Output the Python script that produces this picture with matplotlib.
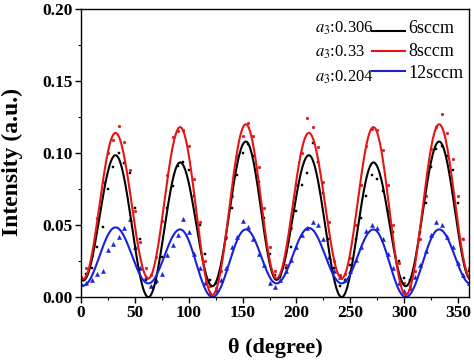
import numpy as np
import matplotlib
matplotlib.use("Agg")
import matplotlib.pyplot as plt

# ---------------- data ----------------
theta = list(range(0, 361, 5))

black_pts = [0.013, 0.016, 0.020, 0.035, 0.049, 0.075, 0.090, 0.100, 0.093, 0.086,
             0.062, 0.040, 0.012, 0.007, 0.010, 0.028, 0.062, 0.077, 0.091, 0.094,
             0.088, 0.070, 0.050, 0.030, 0.012, 0.010, 0.018, 0.040, 0.062, 0.085,
             0.100, 0.106, 0.098, 0.080, 0.055, 0.030, 0.015, 0.014, 0.020, 0.035,
             0.060, 0.078, 0.086, 0.107, 0.094, 0.072, 0.040, 0.020, 0.008, 0.012,
             0.022, 0.040, 0.055, 0.070, 0.085, 0.082, 0.074, 0.060, 0.045, 0.025,
             0.013, 0.012, 0.022, 0.045, 0.065, 0.090, 0.103, 0.105, 0.098, 0.088,
             0.065, 0.040, 0.018]

red_pts = [0.014, 0.020, 0.029, 0.055, 0.080, 0.100, 0.109, 0.119, 0.108, 0.088,
           0.060, 0.038, 0.020, 0.015, 0.028, 0.053, 0.085, 0.111, 0.115, 0.116,
           0.105, 0.082, 0.052, 0.025, 0.008, 0.006, 0.018, 0.042, 0.070, 0.098,
           0.112, 0.121, 0.112, 0.090, 0.062, 0.035, 0.018, 0.015, 0.022, 0.048,
           0.078, 0.100, 0.124, 0.118, 0.104, 0.080, 0.052, 0.025, 0.015, 0.016,
           0.027, 0.050, 0.078, 0.105, 0.117, 0.116, 0.102, 0.078, 0.050, 0.024,
           0.010, 0.008, 0.018, 0.040, 0.070, 0.103, 0.118, 0.127, 0.114, 0.096,
           0.070, 0.040, 0.020]

blue_pts = [0.009, 0.010, 0.012, 0.016, 0.018, 0.033, 0.037, 0.042, 0.048, 0.054,
            0.035, 0.020, 0.014, 0.008, 0.012, 0.016, 0.029, 0.036, 0.043, 0.054,
            0.045, 0.030, 0.020, 0.010, 0.003, 0.005, 0.012, 0.020, 0.035, 0.042,
            0.053, 0.049, 0.040, 0.030, 0.022, 0.010, 0.007, 0.012, 0.018, 0.026,
            0.035, 0.043, 0.048, 0.052, 0.050, 0.040, 0.028, 0.018, 0.014, 0.012,
            0.018, 0.026, 0.035, 0.046, 0.050, 0.048, 0.040, 0.030, 0.020, 0.010,
            0.004, 0.006, 0.014, 0.022, 0.032, 0.043, 0.052, 0.050, 0.042, 0.035,
            0.024, 0.015, 0.010]

# fitted curves: extrema (angle, value)
ext_angles = [-27.5, 2, 32, 62.5, 92, 122, 153, 181.5, 211.5, 242, 271.5, 301.5, 332.5, 362]
black_ext = [0.108, 0.0115, 0.0985, 0.0, 0.0935, 0.0076, 0.108, 0.012, 0.0985, 0.0, 0.0935, 0.0076, 0.108, 0.012]
red_ext   = [0.120, 0.0125, 0.114, 0.013, 0.118, 0.0015, 0.120, 0.013, 0.114, 0.013, 0.118, 0.0015, 0.120, 0.0125]
blue_ext  = [0.047, 0.008, 0.0484, 0.0095, 0.047, 0.0, 0.047, 0.0095, 0.048, 0.0095, 0.047, 0.0, 0.047, 0.009]

labels = ["6sccm", "8sccm", "12sccm"]
a3_texts = ["$a_3$:0.306", "$a_3$:0.33", "$a_3$:0.204"]


def smooth_through(xa, ya, xs):
    xa = np.asarray(xa, float)
    ya = np.asarray(ya, float)
    out = np.empty_like(xs)
    for i, x in enumerate(xs):
        j = np.searchsorted(xa, x) - 1
        j = min(max(j, 0), len(xa) - 2)
        t = (x - xa[j]) / (xa[j + 1] - xa[j])
        f = (1 - np.cos(np.pi * t)) / 2
        out[i] = ya[j] + (ya[j + 1] - ya[j]) * f
    return out


plt.rcParams['font.family'] = ['Liberation Serif', 'DejaVu Serif']
plt.rcParams['mathtext.fontset'] = 'stix'

fig = plt.figure(figsize=(4.74, 3.61), dpi=100)
ax = fig.add_axes([0.171, 0.177, 0.818, 0.798])

xs = np.linspace(0, 360, 721)
colors = ['black', '#e81414', '#1a22d8']
markers = ['s', 'o', '^']
msizes = [2.0, 2.0, 3.0]
pts = [black_pts, red_pts, blue_pts]
exts = [black_ext, red_ext, blue_ext]

for c, m, ms, p in zip(colors, markers, msizes, pts):
    ax.plot(theta, p, linestyle='none', marker=m, ms=ms, color=c, mec=c, mew=0.3)

for c, e, lab in zip(colors, exts, labels):
    ax.plot(xs, smooth_through(ext_angles, e, xs), color=c, lw=1.5, label=lab)

ax.set_xlim(0, 360)
ax.set_ylim(0, 0.20)
ax.set_xticks([0, 50, 100, 150, 200, 250, 300, 350])
ax.set_xticks(np.arange(25, 360, 50), minor=True)
ax.set_yticks([0.0, 0.05, 0.10, 0.15, 0.20])
ax.set_yticks([0.025, 0.075, 0.125, 0.175], minor=True)
ax.set_yticklabels(["0.00", "0.05", "0.10", "0.15", "0.20"])
ax.tick_params(which='major', direction='out', length=4.5, width=1.0, labelsize=12.5, pad=1.5)
ax.tick_params(which='minor', direction='out', length=2.5, width=0.8)
for lab in ax.get_xticklabels() + ax.get_yticklabels():
    lab.set_fontweight('bold')
for s in ax.spines.values():
    s.set_linewidth(1.0)

ax.set_xlabel("θ (degree)", fontsize=16, fontweight='bold', va='center')
ax.xaxis.set_label_coords(0.5, -0.177)
ax.set_ylabel("Intensity (a.u.)", fontsize=17, fontweight='bold', va='center')
ax.yaxis.set_label_coords(-0.178, 0.469)

# legend drawn by hand (line key + label), with a3 annotations on the left
def ax_xy(px, py):
    return (px - 81) / 388, (297 - py) / 288

line_y = [31, 51, 71]
text_base = [33, 56, 78]
a3_y = [28, 52, 77]
for c, lab, a3, ly, tb, ay in zip(colors, labels, a3_texts, line_y, text_base, a3_y):
    x0, yl = ax_xy(372, ly)
    x1, _ = ax_xy(405, ly)
    ax.plot([x0, x1], [yl, yl], color=c, lw=1.5, transform=ax.transAxes, clip_on=False)
    xt, yt = ax_xy(408.5, tb)
    ax.text(xt, yt, lab, transform=ax.transAxes, fontsize=13, va='baseline', ha='left')
    xa, ya = ax_xy(315, ay)
    ax.text(xa, ya, a3, transform=ax.transAxes, fontsize=12, va='center', ha='left')

fig.savefig("out.png", dpi=100)
